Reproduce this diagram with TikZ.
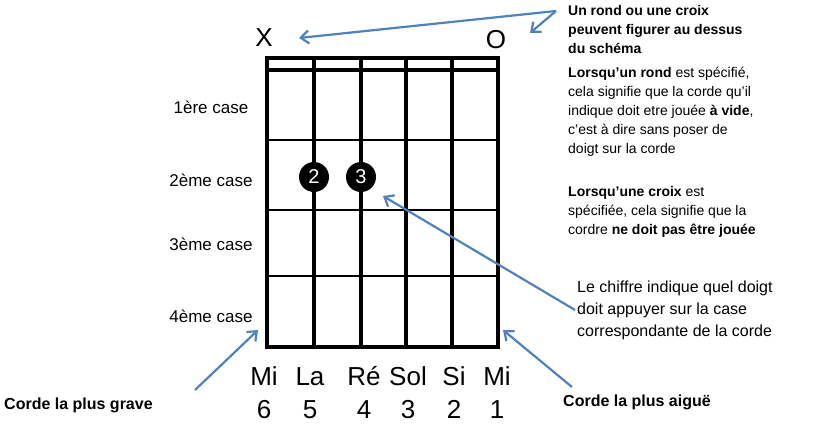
\documentclass[tikz,border=0pt]{standalone}
\usepackage{fontspec}
\setmainfont{Liberation Sans}
\usetikzlibrary{arrows.meta}
\definecolor{arr}{RGB}{79,129,189}
\begin{document}
\begin{tikzpicture}[x=1pt,y=-1pt,
  thickl/.style={line width=4.5pt},
  thinl/.style={line width=1.5pt},
  blue arrow/.style={draw=arr,line width=2.2pt,-{Straight Barb[length=8pt,width=13pt]}},
  casel/.style={font=\fontsize{17}{20}\selectfont,anchor=base},
  big/.style={font=\fontsize{26}{28}\selectfont,anchor=base},
  note/.style={font=\fontsize{14}{19}\selectfont,align=left,anchor=north west,inner sep=0},
  dot/.style={circle,fill=black,minimum size=30pt,inner sep=0,text=white,font=\fontsize{20}{20}\selectfont}]
\useasboundingbox (0,0) rectangle (817,426);
% grid
\foreach \y in {140,210,276} \draw[thinl] (265,\y) -- (500,\y);
\draw[thickl] (265,70) -- (500,70);
\foreach \x in {267,314,361,406,452,498} \draw[thickl] (\x,56) -- (\x,349);
\draw[thickl] (265,58) -- (500,58);
\draw[thickl] (265,347) -- (500,347);
% labels
\node[casel] (c1) at (211,113) {1ère case};
\node[casel] (c2) at (211,186) {2ème case};
\node[casel] (c3) at (211,250) {3ème case};
\node[casel] (c4) at (211,322) {4ème case};
\node[big] (X) at (264,46) {X};
\node[big] (O) at (496,48) {O};
\foreach \x/\n/\k in {264/Mi/6,310/La/5,364/Ré/4,408/Sol/3,454/Si/2,497/Mi/1}{
  \node[big] (n\k) at (\x,385) {\n};
  \node[big] (k\k) at (\x,418) {\k};}
\node[dot] (d2) at (314,177) {2};
\node[dot] (d3) at (361,177) {3};
% notes
\node[note,font=\fontsize{14}{19}\selectfont\bfseries] (t1) at (568,5) {Un rond ou une croix\\peuvent figurer au dessus\\du schéma};
\node[note] (t2) at (568,67) {\textbf{Lorsqu'un rond} est spécifié,\\cela signifie que la corde qu'il\\indique doit etre jouée \textbf{à vide},\\c'est à dire sans poser de\\doigt sur la corde};
\node[note] (t3) at (568,186) {\textbf{Lorsqu'une croix} est\\spécifiée, cela signifie que la\\cordre \textbf{ne doit pas être jouée}};
\node[note,font=\fontsize{16}{22}\selectfont] (t4) at (577,281) {Le chiffre indique quel doigt\\doit appuyer sur la case\\correspondante de la corde};
\node[font=\fontsize{16}{18}\selectfont\bfseries,anchor=west,inner sep=0] (g) at (4,405) {Corde la plus grave};
\node[font=\fontsize{16}{18}\selectfont\bfseries,anchor=west,inner sep=0] (a) at (563,402) {Corde la plus aiguë};
% arrows
\coordinate (s) at (556,11);
\coordinate (xe) at (299,38);
\coordinate (oe) at (530,33);
\draw[blue arrow] (s) -- (xe);
\draw[blue arrow] (s) -- (oe);
\coordinate (f0) at (575,310);
\coordinate (f1) at (383,196);
\draw[blue arrow] (f0) -- (f1);
\coordinate (g0) at (195,390);
\coordinate (g1) at (258,330);
\draw[blue arrow] (g0) -- (g1);
\coordinate (a0) at (572,387);
\coordinate (a1) at (503,330);
\draw[blue arrow] (a0) -- (a1);
\end{tikzpicture}
\end{document}
